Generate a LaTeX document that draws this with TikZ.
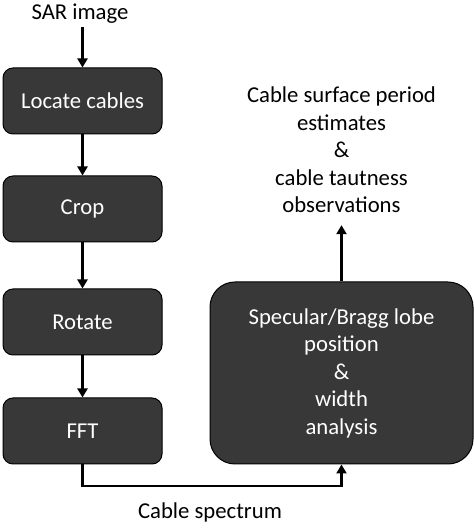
\documentclass[tikz,border=0pt]{standalone}
\usepackage{fontspec}
\setmainfont{Carlito}
\usepackage{tikz}
\usetikzlibrary{calc}
\usetikzlibrary{arrows.meta}
\usetikzlibrary{positioning}
\usepackage{color}
\definecolor{charcoal}{RGB}{56, 56, 56}

\tikzset{
    stepbox/.style={draw=black, line width=1pt, fill=charcoal, text=white, rounded corners=10pt,
                    minimum width=159pt, minimum height=66pt, inner sep=0pt, align=center},
    bigbox/.style={stepbox, rounded corners=25pt, minimum width=263pt, minimum height=182pt},
    plain/.style={text=black, align=center, inner sep=0pt},
    flow/.style={line width=2.6pt, -{Triangle[length=9pt, width=10pt]}}
}

\begin{document}
\begin{tikzpicture}[x=1pt, y=1pt, font=\fontsize{22.7}{27.5}\selectfont]
            % Frame to fix the page size:
            \useasboundingbox (0, 0) rectangle (474, 528);
            % Processing chain
            \node[plain]    (sar)  at ( 80.0, 514.0) {SAR image};
            \node[stepbox]  (loc)  at ( 82.5, 427.0) {Locate cables};
            \node[stepbox]  (crop) at ( 82.5, 319.0) {Crop};
            \node[stepbox]  (rot)  at ( 82.5, 206.0) {Rotate};
            \node[stepbox]  (fft)  at ( 82.5,  97.0) {FFT};
            % Lobe analysis
            \node[bigbox]   (lobe) at (341.5, 155.0) {Specular/Bragg lobe\\position\\\&\\width\\analysis};
            \node[plain]    (res)  at (341.5, 378.0) {Cable surface period\\estimates\\\&\\cable tautness\\observations};
            \node[plain]    (spec) at (210.0,  16.0) {Cable spectrum};
            \coordinate     (bend) at (  0.0,  42.0);
            % Arrows
            \draw[flow] (sar.south -| loc.north) ++(0, -3) -- (loc.north);
            \draw[flow] (loc) -- (crop);
            \draw[flow] (crop) -- (rot);
            \draw[flow] (rot) -- (fft);
            \draw[flow] (fft.south) -- (fft.south |- bend) -| (lobe.south);
            \draw[flow, shorten >=12pt] (lobe.north) -- (lobe.north |- res.south);
\end{tikzpicture}
\end{document}
